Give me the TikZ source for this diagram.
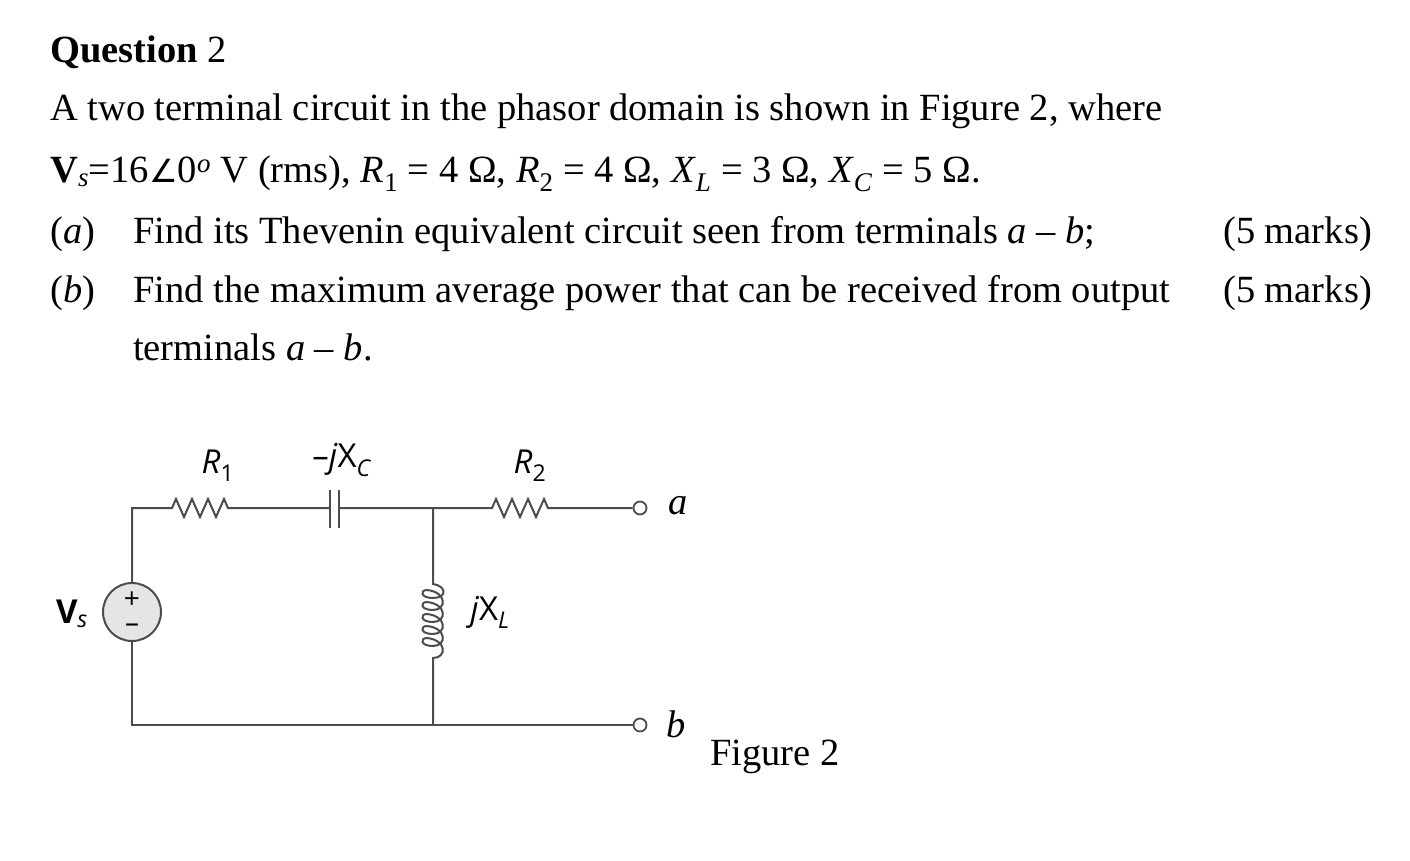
\documentclass[tikz,border=0pt]{standalone}
\usepackage{fontspec}
\setmainfont{Liberation Serif}
\setsansfont{Open Sans}
\newfontfamily\djv{DejaVu Sans}
\newcommand{\sbs}[1]{\textsubscript{\textit{#1}}}
\begin{document}
\begin{tikzpicture}[x=1pt,y=-1pt,
  txt/.style={anchor=base west,inner sep=0pt,font=\fontsize{38.5}{42}\selectfont},
  lab/.style={inner sep=0pt,font=\sffamily\fontsize{33}{36}\selectfont},
  wire/.style={line width=2pt,color=black!70},
  term/.style={circle,draw=black!70,line width=1.8pt,fill=white,minimum size=13pt,inner sep=0pt}]
\useasboundingbox (0,0) rectangle (1410,860);
\node[txt] (q) at (50,62) {\textbf{Question} 2};
\node[txt] (l1) at (50,120) {A two terminal circuit in the phasor domain is shown in Figure 2, where};
\node[txt] (l2) at (50,182) {\textbf{V}\sbs{s}=16{\djv\fontsize{32}{34}\selectfont∠}0\textsuperscript{\textit{o}} V (rms), \textit{R}\textsubscript{1} = 4 Ω, \textit{R}\textsubscript{2} = 4 Ω, \textit{X}\sbs{L} = 3 Ω, \textit{X}\sbs{C} = 5 Ω.};
\node[txt] (a1) at (50,243) {(\textit{a})};
\node[txt] (a2) at (133,243) {Find its Thevenin equivalent circuit seen from terminals \textit{a} – \textit{b};};
\node[txt,anchor=base east] (a3) at (1372,243) {(5 marks)};
\node[txt] (b1) at (50,302) {(\textit{b})};
\node[txt] (b2) at (133,302) {Find the maximum average power that can be received from output};
\node[txt,anchor=base east] (b3) at (1372,302) {(5 marks)};
\node[txt] (b4) at (133,360) {terminals \textit{a} – \textit{b}.};
% circuit
\coordinate (tl) at (132,508);
\coordinate (bl) at (132,725);
\coordinate (nt) at (433,508);
\coordinate (nb) at (433,725);
\node[term] (ta) at (640,508) {};
\node[term] (tb) at (640,725) {};
\node[circle,draw=black!70,fill=black!10,line width=2pt,minimum size=58pt,inner sep=0pt] (vs) at (132,612) {};
\node[inner sep=0pt,font=\sffamily\fontsize{28}{28}\selectfont] (pl) at (132,600) {+};
\node[inner sep=0pt,font=\sffamily\fontsize{28}{28}\selectfont] (mi) at (132,628) {–};
\draw[wire] (vs.north) -- (tl) -- (172,508) -- (176,499) -- (184,517) -- (192,499) -- (200,517) -- (208,499) -- (216,517) -- (224,499) -- (228,508) -- (330,508);
\draw[wire] (330,490) -- (330,528) (339,490) -- (339,528);
\draw[wire] (339,508) -- (nt) -- (492,508) -- (496,499) -- (504,517) -- (512,499) -- (520,517) -- (528,499) -- (536,517) -- (544,499) -- (548,508) -- (ta.west);
\draw[wire] (nt) -- (433,584)
  .. controls (447,586) and (447,598) .. (433,598)
  .. controls (420,598) and (420,590) .. (427,590)
  .. controls (447,592) and (447,610) .. (433,610)
  .. controls (420,610) and (420,602) .. (427,602)
  .. controls (447,604) and (447,622) .. (433,622)
  .. controls (420,622) and (420,614) .. (427,614)
  .. controls (447,616) and (447,634) .. (433,634)
  .. controls (420,634) and (420,626) .. (427,626)
  .. controls (447,628) and (447,646) .. (433,646)
  .. controls (420,646) and (420,638) .. (427,638)
  .. controls (447,640) and (447,658) .. (433,658)
  -- (nb);
\draw[wire] (vs.south) -- (bl) -- (nb) -- (tb.west);
\node[lab] (r1) at (218,466) {\textit{R}\textsubscript{1}};
\node[lab] (xc) at (342,460) {–\textit{j}X\textsubscript{\textit{C}}};
\node[lab] (r2) at (530,466) {\textit{R}\textsubscript{2}};
\node[lab] (xl) at (490,612) {\textit{j}X\textsubscript{\textit{L}}};
\node[lab] (vl) at (72,614) {\textbf{V}\textsubscript{\textit{s}}};
\node[txt] (la) at (668,514) {\textit{a}};
\node[txt] (lb) at (666,737) {\textit{b}};
\node[txt] (fig) at (710,765) {Figure 2};
\end{tikzpicture}
\end{document}
